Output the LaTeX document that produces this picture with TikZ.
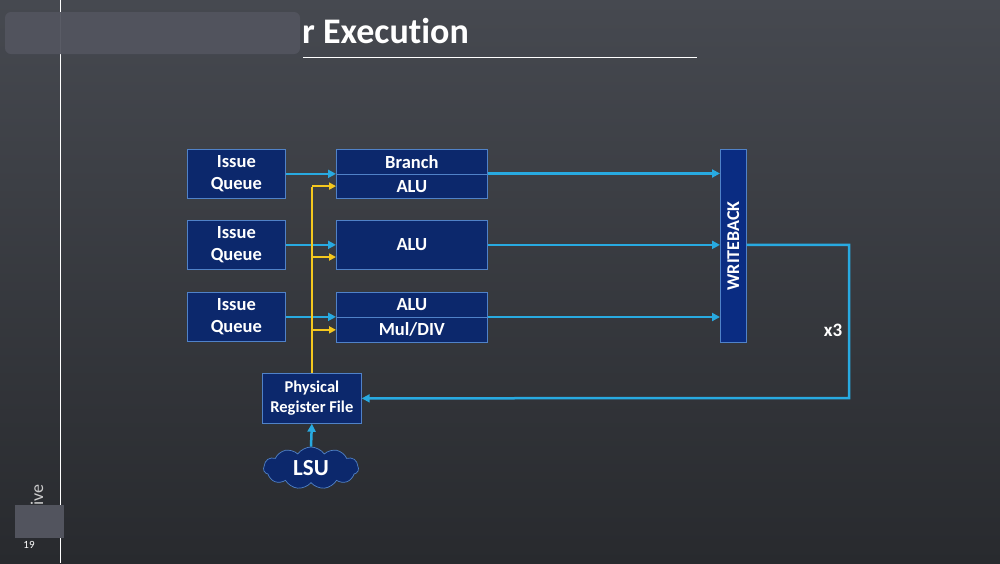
\documentclass[tikz,border=0pt]{standalone}
\usepackage{fontspec}
\setmainfont[Ligatures=NoCommon]{Carlito}
\usetikzlibrary{arrows.meta,shapes.symbols,calc}
\definecolor{bgtop}{RGB}{70,73,80}
\definecolor{bgbot}{RGB}{40,42,46}
\definecolor{navy}{RGB}{12,40,108}
\definecolor{wbnavy}{RGB}{10,44,130}
\definecolor{edge}{RGB}{80,130,200}
\definecolor{cyanarrow}{RGB}{40,170,225}
\definecolor{gold}{RGB}{245,200,30}
\definecolor{patch}{RGB}{82,84,94}
\begin{document}
\begin{tikzpicture}[x=1pt,y=-1pt,
  unit/.style={draw=edge,line width=0.7pt,fill=navy,text=white,
    font=\fontsize{18.5}{22}\selectfont\bfseries,align=center,inner sep=0pt,anchor=north west},
  carrow/.style={draw=cyanarrow,line width=2.5pt,-{Triangle[length=8pt,width=8pt]}},
  garrow/.style={draw=gold,line width=2pt,-{Triangle[length=7pt,width=7pt]}},
  label/.style={text=white,font=\fontsize{19}{20}\selectfont\bfseries}]
\useasboundingbox (0,0) rectangle (1000,563);
\shade[top color=bgtop,bottom color=bgbot] (0,0) rectangle (1000,563);
% left rule
\draw[white,line width=1pt] (60,0) -- (60,563);
% title
\node[anchor=base west,text=white,font=\fontsize{36}{38}\selectfont\bfseries,inner sep=0pt] (title) at (302,43) {r Execution};
\draw[white,line width=1pt] (303,57) -- (697,57);
\fill[patch,rounded corners=6pt,opacity=0.95] (5,12) rectangle (300,54);
% bottom left
\node[rotate=90,text=gray!40,font=\fontsize{18}{20}\selectfont,anchor=west,inner sep=0pt] (five) at (37,514) {Five};
\fill[patch] (15,505) rectangle (64,538);
\node[text=white!85,font=\fontsize{11}{12}\selectfont] (pg) at (29,545) {19};
% issue queues
\node[unit,minimum width=98pt,minimum height=49pt] (iq1) at (187,149) {Issue\\Queue};
\node[unit,minimum width=98pt,minimum height=49pt] (iq2) at (187,220) {Issue\\Queue};
\node[unit,minimum width=98pt,minimum height=49pt] (iq3) at (187,292) {Issue\\Queue};
% units
\node[unit,minimum width=151pt,minimum height=24.5pt] (br) at (336,149) {Branch};
\node[unit,minimum width=151pt,minimum height=24.5pt] (alu1) at (336,173.5) {ALU};
\node[unit,minimum width=151pt,minimum height=49pt] (alu2) at (336,220) {ALU};
\node[unit,minimum width=151pt,minimum height=25pt] (alu3) at (336,292) {ALU};
\node[unit,minimum width=151pt,minimum height=25pt] (mul) at (336,317) {Mul/DIV};
% writeback
\node[unit,fill=wbnavy,minimum width=26pt,minimum height=193pt] (wb) at (720,149) {};
\node[rotate=90,text=white,font=\fontsize{18}{20}\selectfont\bfseries] (wbt) at (wb.center) {WRITEBACK};
% PRF and LSU
\node[unit,minimum width=99pt,minimum height=50pt,font=\fontsize{16.5}{20}\selectfont\bfseries] (prf) at (262,373) {Physical\\Register File};
\node[cloud,cloud puffs=11,cloud puff arc=110,aspect=2.4,draw=edge,line width=0.7pt,fill=navy,text=white,
  font=\fontsize{23}{24}\selectfont\bfseries,minimum width=95pt,minimum height=42pt,inner sep=0pt] (lsu) at (311,468) {LSU};
% cyan arrows
\draw[carrow] (iq1.east) -- (iq1.east -| alu1.west);
\draw[carrow] (iq2.east) -- (alu2.west);
\draw[carrow] (iq3.east) -- (iq3.east -| mul.west);
\draw[carrow] (alu1.north east) -- (alu1.north east -| wb.west);
\draw[carrow] (alu2.east) -- (alu2.east -| wb.west);
\draw[carrow] (mul.north east) -- (mul.north east -| wb.west);
\coordinate (fb) at (849,398);
\draw[carrow] (wb.east |- alu2.east) -| (fb) -- (prf.east);
\draw[carrow] (lsu.north) -- (prf.south);
% yellow
\coordinate (ytop) at (prf.north |- alu1.west);
\coordinate (ymid) at (311.5,257);
\draw[gold,line width=2pt] (prf.north) -- ([yshift=-1pt]ytop);
\draw[garrow] (ytop) -- (alu1.west);
\draw[garrow] (ymid) -- (ymid -| alu2.west);
\draw[garrow] (prf.north |- mul.west) -- (mul.west);
\node[label] (x3) at (833,330) {x3};
\end{tikzpicture}
\end{document}
